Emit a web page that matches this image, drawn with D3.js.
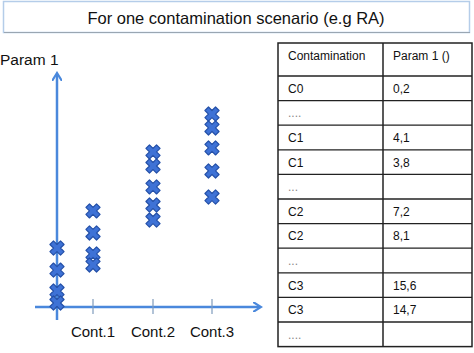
<!DOCTYPE html>
<html><head><meta charset="utf-8">
<script src="https://cdn.jsdelivr.net/npm/d3@7"></script>
<style>body{margin:0;background:#fff}svg{display:block}</style>
</head><body>
<svg id="c" width="474" height="353"></svg>
<script>
const title = "For one contamination scenario (e.g RA)";
const yLabel = "Param 1";
const categories = ["", "Cont.1", "Cont.2", "Cont.3"];
const values0 = [2.51, 1.57, 0.68, 0.17];
const values1 = [4.09, 3.15, 2.26, 1.79];
const values2 = [6.60, 6.00, 5.11, 4.34, 3.70];
const values3 = [8.21, 7.62, 6.77, 5.79, 4.68];
const seriesValues = [values0, values1, values2, values3];
const tableHeader = ["Contamination", "Param 1 ()"];
const tableCol1 = ["C0", "....", "C1", "C1", "...", "C2", "C2", "...", "C3", "C3", "...."];
const tableCol2 = ["0,2", "", "4,1", "3,8", "", "7,2", "8,1", "", "15,6", "14,7", ""];

const svg = d3.select("#c");
const FONT = "'Liberation Sans', Arial, sans-serif";
const axisColor = "#4a88dc";

// title box
svg.append("rect").attr("x", 3.5).attr("y", 1.5).attr("width", 466).attr("height", 31)
  .attr("fill", "#fff").attr("stroke", "#b5cde9").attr("stroke-width", 1.5);
svg.append("line").attr("x1", 4).attr("x2", 470).attr("y1", 32.5).attr("y2", 32.5)
  .attr("stroke", "#9aa6b2").attr("stroke-width", 1);
svg.append("text").attr("x", 236).attr("y", 23.5).attr("text-anchor", "middle")
  .attr("font-family", FONT).attr("font-size", 16.5).attr("fill", "#111").text(title);

// scales
const xPos = d3.scaleOrdinal().domain(categories).range([57, 93, 153, 212]);
const y = d3.scaleLinear().domain([0, 10]).range([307, 72]);

const defs = svg.append("defs");
defs.append("marker").attr("id", "arr").attr("viewBox", "0 0 10 10").attr("refX", 6).attr("refY", 5)
  .attr("markerWidth", 4).attr("markerHeight", 4).attr("orient", "auto")
  .append("path").attr("d", "M0,0 L8,5 L0,10").attr("fill", "none").attr("stroke", axisColor).attr("stroke-width", 2.2);

// axes
svg.append("line").attr("x1", 35).attr("x2", 259).attr("y1", y(0)).attr("y2", y(0))
  .attr("stroke", axisColor).attr("stroke-width", 2.5).attr("marker-end", "url(#arr)");
svg.append("line").attr("x1", 57).attr("x2", 57).attr("y1", 320).attr("y2", 75)
  .attr("stroke", axisColor).attr("stroke-width", 2.5).attr("marker-end", "url(#arr)");

const ticks = categories.filter(c => c !== "");
svg.selectAll(".tk").data(ticks).join("line").attr("class", "tk")
  .attr("x1", d => xPos(d)).attr("x2", d => xPos(d)).attr("y1", y(0) - 8).attr("y2", y(0) + 7)
  .attr("stroke", "#7f9bbd").attr("stroke-width", 1.2);
svg.selectAll(".tl").data(ticks).join("text").attr("class", "tl")
  .attr("x", d => xPos(d)).attr("y", 337).attr("text-anchor", "middle")
  .attr("font-family", FONT).attr("font-size", 15).attr("fill", "#111").text(d => d);

svg.append("text").attr("x", 0).attr("y", 65).attr("font-family", FONT).attr("font-size", 15.5)
  .attr("fill", "#111").text(yLabel);

// markers
const pts = [];
seriesValues.forEach((vals, i) => vals.forEach(v => pts.push({c: categories[i], v})));
const sym = d3.symbol().type(d3.symbolCross).size(125);
svg.selectAll(".pt").data(pts).join("path").attr("class", "pt")
  .attr("d", sym)
  .attr("transform", d => `translate(${xPos(d.c)},${y(d.v)}) rotate(45)`)
  .attr("fill", "#3e72d6").attr("stroke", "#2450a8").attr("stroke-width", 1.2)
  .attr("stroke-linejoin", "round");

// table
const tx0 = 278, tx1 = 383, tx2 = 472;
const headerTop = 43, headerBottom = 76, rowH = 24.6;
const rows = tableCol1.map((c, i) => ({c, v: tableCol2[i], top: headerBottom + i * rowH}));
const tableBottom = headerBottom + rows.length * rowH;
const tg = svg.append("g");
tg.append("rect").attr("x", tx0).attr("y", headerTop).attr("width", tx2 - tx0).attr("height", tableBottom - headerTop)
  .attr("fill", "none").attr("stroke", "#222").attr("stroke-width", 1.5);
tg.append("line").attr("x1", tx1).attr("x2", tx1).attr("y1", headerTop).attr("y2", tableBottom)
  .attr("stroke", "#222").attr("stroke-width", 1.5);
tg.selectAll(".rl").data(rows).join("line").attr("class", "rl")
  .attr("x1", tx0).attr("x2", tx2).attr("y1", d => d.top).attr("y2", d => d.top)
  .attr("stroke", "#222").attr("stroke-width", 1.3);
const cellFont = 12;
tg.append("text").attr("x", tx0 + 10).attr("y", 60).attr("font-family", FONT).attr("font-size", cellFont).attr("fill", "#111").text(tableHeader[0]);
tg.append("text").attr("x", tx1 + 10).attr("y", 60).attr("font-family", FONT).attr("font-size", cellFont).attr("fill", "#111").text(tableHeader[1]);
tg.selectAll(".c1").data(rows).join("text").attr("class", "c1")
  .attr("x", tx0 + 10).attr("y", d => d.top + rowH / 2 + 4.5)
  .attr("font-family", FONT).attr("font-size", cellFont).attr("fill", d => d.c.startsWith(".") ? "#888" : "#111").text(d => d.c);
tg.selectAll(".c2").data(rows).join("text").attr("class", "c2")
  .attr("x", tx1 + 10).attr("y", d => d.top + rowH / 2 + 4.5)
  .attr("font-family", FONT).attr("font-size", cellFont).attr("fill", "#111").text(d => d.v);
</script>
</body></html>
